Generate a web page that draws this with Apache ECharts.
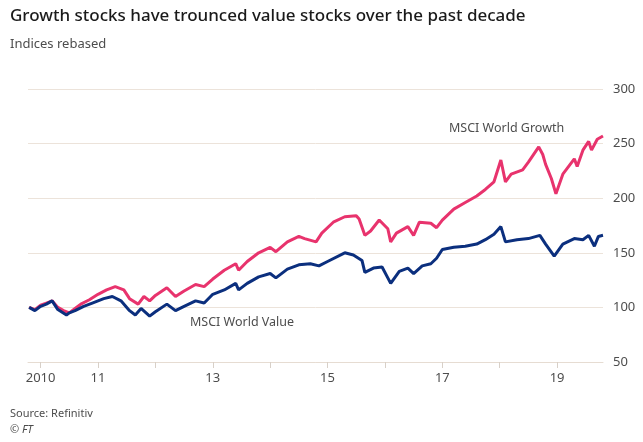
<!DOCTYPE html>
<html><head><meta charset="utf-8">
<script src="https://cdn.jsdelivr.net/npm/echarts@6/dist/echarts.min.js"></script>
<style>html,body{margin:0;padding:0;background:#fff}#c{width:643px;height:442px}</style>
</head><body><div id="c"></div>
<script>
const growthDates=[2009.8,2009.9,2010.0,2010.1,2010.2,2010.3,2010.4,2010.5,2010.6,2010.7,2010.85,2011.0,2011.15,2011.3,2011.45,2011.55,2011.7,2011.8,2011.9,2012.0,2012.2,2012.35,2012.5,2012.7,2012.85,2013.0,2013.2,2013.4,2013.45,2013.6,2013.8,2014.0,2014.1,2014.3,2014.5,2014.6,2014.8,2014.9,2015.1,2015.3,2015.5,2015.55,2015.65,2015.75,2015.9,2016.05,2016.1,2016.2,2016.4,2016.5,2016.6,2016.8,2016.9,2017.0,2017.2,2017.4,2017.6,2017.75,2017.9,2018.02,2018.1,2018.2,2018.4,2018.5,2018.68,2018.75,2018.8,2018.9,2018.98,2019.1,2019.3,2019.35,2019.45,2019.55,2019.6,2019.7,2019.8];
const growthValues=[100,98,102,104,106,100,97,95,99,103,107,112,116,119,116,108,103,110,106,111,118,110,115,121,119,126,134,140,134,142,150,155,151,160,165,163,160,168,178,183,184,181,166,170,180,172,160,168,174,166,178,177,173,180,190,196,202,208,215,235,215,222,226,233,247,240,231,218,204,222,236,229,244,252,244,254,257];
const valueDates=[2009.8,2009.9,2010.0,2010.1,2010.2,2010.3,2010.45,2010.5,2010.6,2010.75,2010.9,2011.1,2011.25,2011.4,2011.55,2011.65,2011.75,2011.9,2012.0,2012.2,2012.35,2012.5,2012.7,2012.85,2013.0,2013.2,2013.4,2013.45,2013.6,2013.8,2014.0,2014.1,2014.3,2014.5,2014.7,2014.85,2015.0,2015.3,2015.45,2015.6,2015.65,2015.8,2015.95,2016.05,2016.1,2016.25,2016.4,2016.5,2016.65,2016.8,2016.9,2017.0,2017.2,2017.4,2017.6,2017.75,2017.9,2018.02,2018.1,2018.3,2018.5,2018.7,2018.8,2018.95,2019.1,2019.3,2019.45,2019.55,2019.65,2019.72,2019.8];
const valueValues=[100,97,101,103,106,98,93,95,97,101,104,108,110,106,97,93,99,92,96,103,97,101,106,104,112,116,122,116,122,128,131,127,135,139,140,138,142,150,148,143,132,136,137,127,122,133,136,131,138,140,145,153,155,156,158,162,167,174,160,162,163,166,158,147,158,163,162,166,156,165,166];
const tickYears=[2010,2011,2012,2013,2014,2015,2016,2017,2018,2019];
const labelYears=[2010,2011,2013,2015,2017,2019];
const yTicks=[50,100,150,200,250,300];
const zip=(a,b)=>a.map((d,i)=>[d,b[i]]);
const txt='#4d4d4d';
const chart=echarts.init(document.getElementById('c'));
chart.setOption({
  animation:false,
  backgroundColor:'#fff',
  grid:{left:28,right:40,top:89,bottom:80},
  xAxis:{type:'value',min:2009.78,max:2019.8,
    axisLine:{show:true,lineStyle:{color:'#e6dcd2',width:1}},
    axisTick:{show:true,customValues:tickYears,length:6,inside:false,lineStyle:{color:'#d8d0c8'}},
    axisLabel:{customValues:labelYears,color:txt,fontSize:13,fontFamily:'Noto Sans',margin:10,
      formatter:v=>Math.round(v)===2010?'2010':String(Math.round(v)%100)},
    splitLine:{show:false}},
  yAxis:{type:'value',position:'right',min:50,max:300,interval:50,
    axisLine:{show:false},axisTick:{show:false},
    axisLabel:{color:txt,fontSize:13,fontFamily:'Noto Sans',margin:10},
    splitLine:{lineStyle:{color:'#ece3da',width:1}}},
  series:[
    {type:'line',data:zip(growthDates,growthValues),showSymbol:false,lineStyle:{color:'#e8336d',width:3},z:2},
    {type:'line',data:zip(valueDates,valueValues),showSymbol:false,lineStyle:{color:'#0b2f7e',width:3},z:3}
  ],
  graphic:[
    {type:'text',left:10,top:8,style:{text:'Growth stocks have trounced value stocks over the past decade',fill:'#1a1a1a',font:'500 17px "Noto Sans"'}},
    {type:'text',left:10,top:38,style:{text:'Indices rebased',fill:txt,font:'13px "Noto Sans"'}},
    {type:'text',left:449,top:122,style:{text:'MSCI World Growth',fill:txt,font:'12.5px "Noto Sans"'}},
    {type:'text',left:190,top:316,style:{text:'MSCI World Value',fill:txt,font:'12.5px "Noto Sans"'}},
    {type:'text',left:10,top:408,style:{text:'Source: Refinitiv',fill:txt,font:'11px "Noto Sans"'}},
    {type:'text',left:10,top:424,style:{text:'© FT',fill:txt,font:'italic 11px "Noto Sans"'}}
  ]
});
</script></body></html>
